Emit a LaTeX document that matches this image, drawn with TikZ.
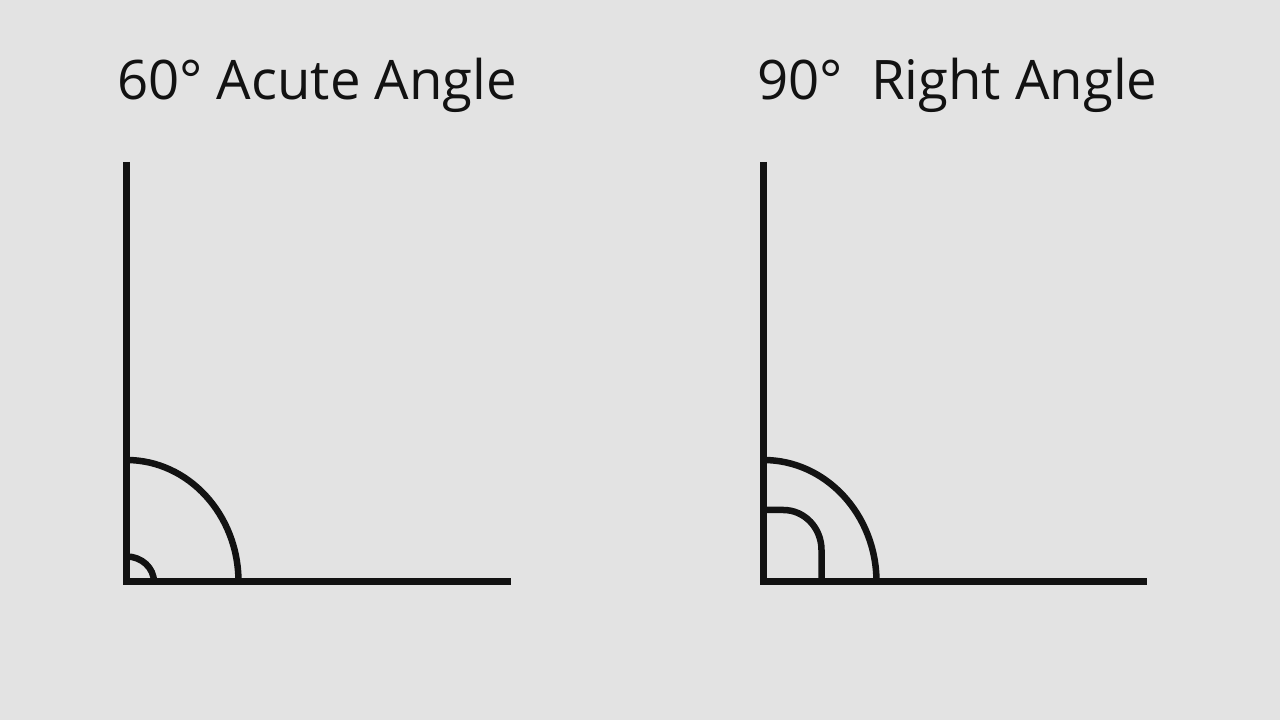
\documentclass[tikz,border=0pt]{standalone}
\usepackage{fontspec}
\setmainfont{Open Sans}
\usetikzlibrary{calc}

\definecolor{bgcol}{RGB}{227,227,227}
\definecolor{inkcol}{RGB}{18,18,18}

\tikzset{
    angleline/.style={draw=inkcol,line width=7bp,line join=miter,line cap=butt},
    anglemark/.style={draw=inkcol,line width=6.5bp,line cap=butt},
    titletext/.style={anchor=base west,inner sep=0pt,text=inkcol,font=\fontsize{54.5bp}{60bp}\selectfont}
}

\begin{document}
\begin{tikzpicture}[line join=bevel]
    \fill[bgcol] (0bp,0bp) rectangle (1280bp,720bp);
    \useasboundingbox (0bp,0bp) rectangle (1280bp,720bp);
    %%
    % Node: acute title
    \node[titletext] (acutetitle) at (117bp,620bp) {60° Acute Angle};
    % Node: right title
    \node[titletext] (righttitle) at (757bp,620bp) {90°\ \ Right Angle};
    %%
    \coordinate (acutecorner) at (126.5bp,138bp);
    \coordinate (acutetop) at (126.5bp,558bp);
    \coordinate (acuteend) at (511bp,138bp);
    \coordinate (rightcorner) at (763.5bp,138bp);
    \coordinate (righttop) at (763.5bp,558bp);
    \coordinate (rightend) at (1147bp,138bp);
    %%
    % Edge: acute angle arms
    \draw[angleline] (acutetop) -- (acutecorner) -- (acuteend);
    % Edge: acute angle marks
    \draw[anglemark] ($(acutecorner)+(0bp,122bp)$) arc (90:0:112bp and 122bp);
    \draw[anglemark] ($(acutecorner)+(0bp,25.5bp)$) arc (90:0:27.5bp and 25.5bp);
    %%
    % Edge: right angle arms
    \draw[angleline] (righttop) -- (rightcorner) -- (rightend);
    % Edge: right angle marks
    \draw[anglemark] ($(rightcorner)+(0bp,122bp)$) arc (90:0:113bp and 122bp);
    \draw[anglemark] ($(rightcorner)+(0bp,72bp)$) -- ++(20bp,0bp)
        arc (90:0:38bp and 40bp) -- ($(rightcorner)+(58bp,0bp)$);
    %
\end{tikzpicture}
\end{document}
